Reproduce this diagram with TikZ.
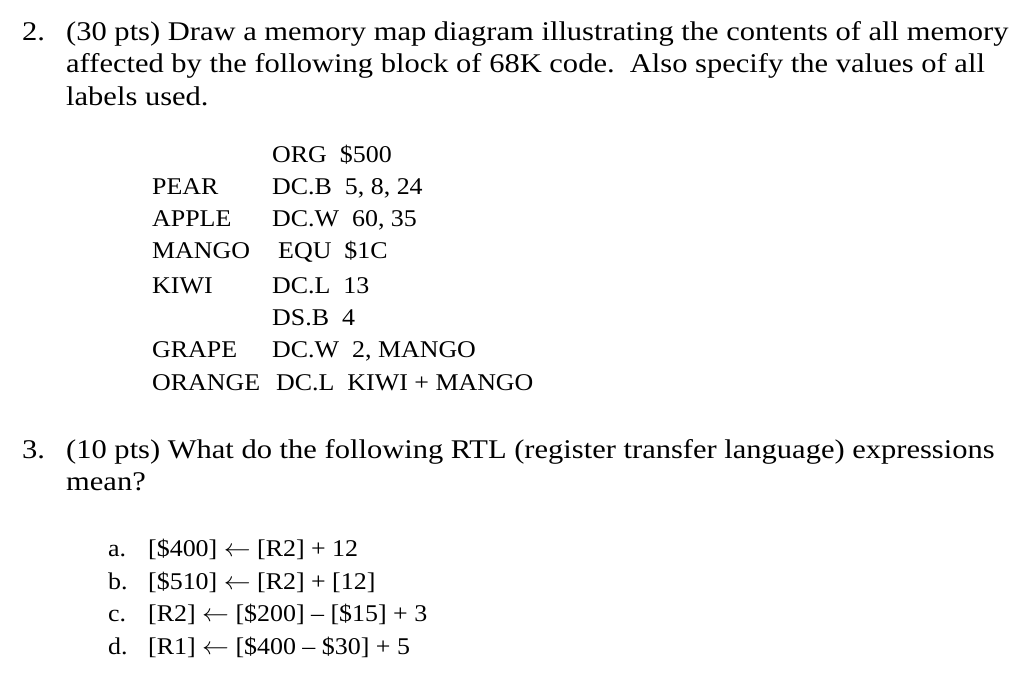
\documentclass[tikz,border=0pt]{standalone}
\usepackage{fontspec}
\setmainfont{Liberation Serif}
\newcommand{\qx}[1]{\scalebox{1.13}[1]{#1}}
\newcommand{\cx}[1]{\scalebox{1.08}[1]{#1}}
\begin{document}
\begin{tikzpicture}[x=1pt,y=-1pt,
  q/.style={anchor=base west,inner sep=0pt,font=\fontsize{27}{30}\selectfont},
  c/.style={anchor=base west,inner sep=0pt,font=\fontsize{24}{28}\selectfont}]
\useasboundingbox[fill=white] (0,0) rectangle (1024,678);
\node[q] (n2) at (22,40) {\qx{2.}};
\node[q] (l1) at (66,40) {\qx{(30 pts) Draw a memory map diagram illustrating the contents of all memory}};
\node[q] (l2) at (66,72) {\qx{affected by the following block of 68K code.\ \ Also specify the values of all}};
\node[q] (l3) at (66,105) {\qx{labels used.}};
\node[c] (o1) at (272,162) {\cx{ORG\ \ \$500}};
\node[c] (p0) at (152,194) {\cx{PEAR}}; \node[c] (p1) at (272,194) {\cx{DC.B\ \ 5, 8, 24}};
\node[c] (a0) at (152,226) {\cx{APPLE}}; \node[c] (a1) at (272,226) {\cx{DC.W\ \ 60, 35}};
\node[c] (m0) at (152,258) {\cx{MANGO}}; \node[c] (m1) at (278,258) {\cx{EQU\ \ \$1C}};
\node[c] (k0) at (152,293) {\cx{KIWI}}; \node[c] (k1) at (272,293) {\cx{DC.L\ \ 13}};
\node[c] (d1) at (272,325) {\cx{DS.B\ \ 4}};
\node[c] (g0) at (152,357) {\cx{GRAPE}}; \node[c] (g1) at (272,357) {\cx{DC.W\ \ 2, MANGO}};
\node[c] (r0) at (152,390) {\cx{ORANGE}}; \node[c] (r1) at (276,390) {\cx{DC.L\ \ KIWI + MANGO}};
\node[q] (n3) at (22,458) {\qx{3.}};
\node[q] (t1) at (66,458) {\qx{(10 pts) What do the following RTL (register transfer language) expressions}};
\node[q] (t2) at (66,490) {\qx{mean?}};
\node[c] (ea) at (108,556) {\cx{a.}}; \node[c] (xa) at (148,556) {\cx{[\$400]\ $\leftarrow$\ [R2] + 12}};
\node[c] (eb) at (108,589) {\cx{b.}}; \node[c] (xb) at (148,589) {\cx{[\$510]\ $\leftarrow$\ [R2] + [12]}};
\node[c] (ec) at (108,621) {\cx{c.}}; \node[c] (xc) at (148,621) {\cx{[R2]\ $\leftarrow$\ [\$200] -- [\$15] + 3}};
\node[c] (ed) at (108,654) {\cx{d.}}; \node[c] (xd) at (148,654) {\cx{[R1]\ $\leftarrow$\ [\$400 -- \$30] + 5}};
\end{tikzpicture}
\end{document}
